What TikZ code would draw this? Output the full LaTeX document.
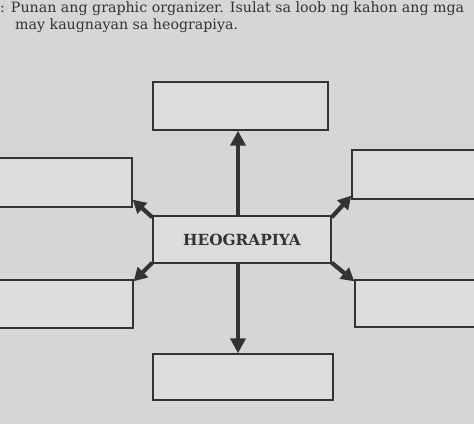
\documentclass[tikz,border=0pt]{standalone}
\usepackage{fontspec}
\setmainfont{DejaVu Serif}
\usepackage{tikz}
\usetikzlibrary{arrows.meta}
\definecolor{paper}{HTML}{D6D6D4}
\definecolor{boxfill}{HTML}{DCDCDA}
\definecolor{ink}{HTML}{333333}
\tikzset{
  kahon/.style={draw=ink, fill=boxfill, line width=1.4pt, rectangle, inner sep=0pt},
  arrowline/.style={draw=ink, line width=4.2pt, -{Triangle[length=15pt, width=15pt]}},
  shortarrow/.style={draw=ink, line width=4.2pt, -{Triangle[length=13pt, width=14pt]}}
}

\begin{document}
\begin{tikzpicture}[x=1pt, y=-1pt]
\useasboundingbox (0,0) rectangle (474,424);
\fill[paper] (0,0) rectangle (474,424);
\clip (0,0) rectangle (474,424);
% instructions at the top
\node[anchor=base west, inner sep=0pt, text=ink] (line1) at (0,12.5)
  {\fontsize{14.2}{17}\selectfont : Punan ang graphic organizer. Isulat sa loob ng kahon ang mga};
\node[anchor=base west, inner sep=0pt, text=ink] (line2) at (15,29)
  {\fontsize{14.2}{17}\selectfont may kaugnayan sa heograpiya.};
% boxes
\node[kahon, minimum width=175pt, minimum height=48pt] (top) at (240.5,106) {};
\node[kahon, minimum width=178pt, minimum height=47pt, text=ink] (heo) at (242,239.5)
  {\fontsize{15.3}{18}\selectfont\bfseries HEOGRAPIYA};
\node[kahon, minimum width=180pt, minimum height=46pt] (bot) at (243,377) {};
\node[kahon, minimum width=137pt, minimum height=49pt] (ltop) at (63.5,182.5) {};
\node[kahon, minimum width=138pt, minimum height=48pt] (lbot) at (64,304) {};
\node[kahon, minimum width=128pt, minimum height=49pt] (rtop) at (416,174.5) {};
\node[kahon, minimum width=125pt, minimum height=47pt] (rbot) at (417.5,303.5) {};
% arrows
\draw[arrowline] (heo.north -| 238,0) -- (top.south -| 238,0);
\draw[arrowline] (heo.south -| 238,0) -- (bot.north -| 238,0);
\draw[shortarrow] ([yshift=-2pt]heo.north west) -- ([yshift=8pt]ltop.south east);
\draw[shortarrow] ([yshift=-2pt]heo.north east) -- ([yshift=4pt]rtop.south west);
\draw[shortarrow] ([yshift=1pt]heo.south west) -- ([yshift=-2pt]lbot.north east);
\draw[shortarrow] ([yshift=1pt]heo.south east) -- ([yshift=-2pt]rbot.north west);
\end{tikzpicture}
\end{document}
